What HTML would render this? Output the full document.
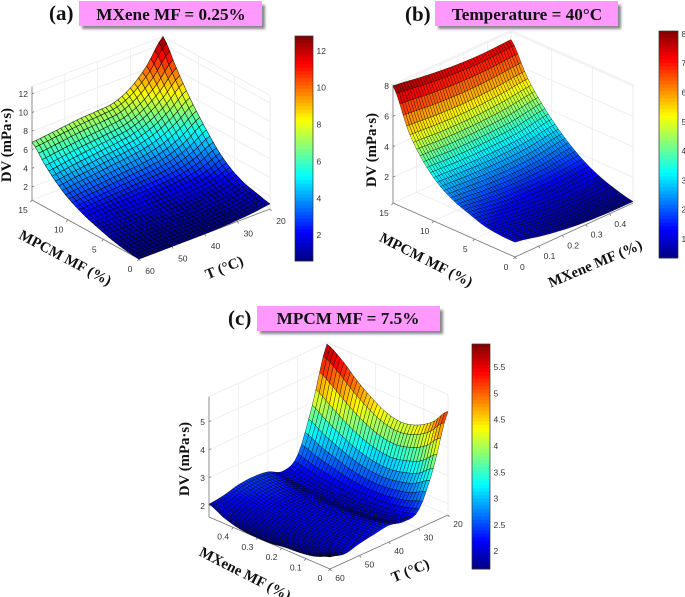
<!DOCTYPE html>
<html lang="en">
<head>
<meta charset="utf-8">
<title>DV response surfaces</title>
<style>
html,body{margin:0;padding:0;background:#fff;}
body{width:685px;height:597px;overflow:hidden;position:relative;}
svg{position:absolute;left:0;top:0;display:block;filter:blur(0.35px);}
.tick{font:8.5px "Liberation Sans",sans-serif;fill:#333;}
.axt{font:bold 14.8px "Liberation Serif",serif;fill:#111;}
.plabel{font:bold 21px "Liberation Serif",serif;fill:#111;}
.ttl{font:bold 17.2px "Liberation Serif",serif;fill:#111;}
</style>
</head>
<body>
<svg id="chart" width="685" height="597" viewBox="0 0 685 597" xmlns="http://www.w3.org/2000/svg">
  <defs>
    <filter id="soft" x="-20%" y="-20%" width="140%" height="160%"><feGaussianBlur stdDeviation="1.2"/></filter>
  </defs>
  <g>
    <text class="plabel" x="49" y="20">(a)</text>
    <rect x="82" y="5" width="183" height="24" fill="#888" filter="url(#soft)"/>
    <rect x="79" y="1" width="183" height="25" fill="#ff99ff"/>
    <text class="ttl" x="171" y="20" text-anchor="middle">MXene MF = 0.25%</text>
  </g>
  <g>
    <text class="plabel" x="405" y="21">(b)</text>
    <rect x="438" y="5" width="183" height="24" fill="#888" filter="url(#soft)"/>
    <rect x="435" y="1" width="183" height="25" fill="#ff99ff"/>
    <text class="ttl" x="527" y="20" text-anchor="middle">Temperature = 40°C</text>
  </g>
  <g>
    <text class="plabel" x="228" y="325">(c)</text>
    <rect x="260" y="310" width="183" height="24" fill="#888" filter="url(#soft)"/>
    <rect x="257" y="306" width="183" height="25" fill="#ff99ff"/>
    <text class="ttl" x="348" y="324" text-anchor="middle">MPCM MF = 7.5%</text>
  </g>
  <g id="plots"></g>
  <g>
    <text class="axt" transform="translate(11,145) rotate(-90)" text-anchor="middle">DV (mPa·s)</text>
    <text class="axt" transform="translate(63,262) rotate(28)" text-anchor="middle">MPCM MF (%)</text>
    <text class="axt" transform="translate(226,272) rotate(-22)" text-anchor="middle">T (°C)</text>
    <text class="axt" transform="translate(376,150) rotate(-90)" text-anchor="middle">DV (mPa·s)</text>
    <text class="axt" transform="translate(424,264) rotate(27)" text-anchor="middle">MPCM MF (%)</text>
    <text class="axt" transform="translate(597,268) rotate(-23)" text-anchor="middle">MXene MF (%)</text>
    <text class="axt" transform="translate(189,459) rotate(-90)" text-anchor="middle">DV (mPa·s)</text>
    <text class="axt" transform="translate(243,578) rotate(27)" text-anchor="middle">MXene MF (%)</text>
    <text class="axt" transform="translate(412,575) rotate(-22)" text-anchor="middle">T (°C)</text>
  </g>
</svg>
<script>
// ---- data ----
// Tables: each row is one step along the second factor, each column one step along the first.
const dvAtMxene025 = [ // rows MPCM 0..15, cols T 60..20
  [0.6,0.6,0.6,0.6,0.6,0.65,0.75,0.9,1.15],
  [0.75,0.78,0.8,0.8,0.8,0.85,0.95,1.15,1.5],
  [1.05,1.08,1.1,1.1,1.1,1.15,1.3,1.5,1.9],
  [1.5,1.52,1.52,1.55,1.6,1.65,1.8,2.1,2.7],
  [2.0,2.1,2.15,2.25,2.35,2.45,2.7,3.2,4.0],
  [2.7,2.85,3.0,3.15,3.3,3.5,3.9,4.7,5.8],
  [3.7,3.95,4.15,4.4,4.6,4.9,5.5,6.5,7.8],
  [5.1,5.35,5.6,5.8,6.0,6.3,7.1,8.4,10.2],
  [6.8,7.0,7.2,7.4,7.5,7.7,8.6,10.3,12.8]
];
const dvAt40C = [ // rows MPCM 0..15, cols MXene 0..0.5
  [1.27,0.85,0.55,0.42,0.4],
  [1.3,0.95,0.7,0.62,0.65],
  [1.45,1.15,0.95,0.9,1.0],
  [1.8,1.5,1.35,1.35,1.5],
  [2.2,2.0,1.9,1.95,2.2],
  [2.85,2.75,2.7,2.8,3.1],
  [3.9,3.8,3.8,3.9,4.2],
  [5.5,5.35,5.3,5.4,5.6],
  [8.0,7.72,7.5,7.42,7.5]
];
const dvAtMpcm75 = [ // rows MXene 0..0.5, cols T 60..20
  [2.03,1.9,2.03,2.12,2.2,2.09,2.25,3.5,5.3],
  [1.82,1.85,1.98,2.05,2.1,1.95,2.1,3.1,4.7],
  [1.72,1.82,1.95,2.02,2.03,1.85,2.0,2.9,4.35],
  [1.68,1.82,1.95,2.02,2.0,1.8,1.95,2.8,4.2],
  [1.6,1.8,1.95,2.02,2.0,1.8,1.95,2.85,4.3],
  [1.6,1.82,1.98,2.05,2.0,1.82,2.0,3.0,4.6],
  [1.65,1.88,2.05,2.12,2.05,1.85,2.1,3.25,5.0],
  [1.8,1.98,2.15,2.22,2.15,1.93,2.2,3.55,5.5],
  [2.06,2.13,2.27,2.31,2.25,2.03,2.35,3.9,5.85]
];
const tempTicks = [60,50,40,30,20];
const mpcmTicks = [0,5,10,15];
const mxeneTicks = [0,0.1,0.2,0.3,0.4];
const dvTicksA = [2,4,6,8,10,12];
const dvTicksB = [2,4,6,8];
const dvTicksC = [2,3,4,5];
const cbarTicksA = [2,4,6,8,10,12];
const cbarTicksB = [1,2,3,4,5,6,7,8];
const cbarTicksC = [2,2.5,3,3.5,4,4.5,5,5.5];

// ---- helpers ----
const NS = 'http://www.w3.org/2000/svg';
const plots = document.getElementById('plots');
function make(parent, tag){
  const el = document.createElementNS(NS, tag);
  parent.appendChild(el);
  return el;
}
function clamp(x){ return Math.max(0, Math.min(1, x)); }
function jet(t){
  t = clamp(t);
  const r = clamp(Math.min(4*t-1.5, -4*t+4.5));
  const g = clamp(Math.min(4*t-0.5, -4*t+3.5));
  const b = clamp(Math.min(4*t+0.5, -4*t+2.5));
  return 'rgb(' + Math.round(r*255) + ',' + Math.round(g*255) + ',' + Math.round(b*255) + ')';
}
function cr(p0,p1,p2,p3,t){
  return 0.5*((2*p1)+(-p0+p2)*t+(2*p0-5*p1+4*p2-p3)*t*t+(-p0+3*p1-3*p2+p3)*t*t*t);
}
// Smooth display sampling of a value table for mesh rendering
function sample(table,u,v){
  const rows = table.length, cols = table[0].length;
  const fy = clamp(v)*(rows-1), fx = clamp(u)*(cols-1);
  const iy = Math.min(rows-2, Math.floor(fy)), ix = Math.min(cols-2, Math.floor(fx));
  const ty = fy-iy, tx = fx-ix;
  const at = (r,c) => table[Math.max(0,Math.min(rows-1,r))][Math.max(0,Math.min(cols-1,c))];
  const col = [];
  for(let r=-1;r<=2;r++){
    col.push(cr(at(iy+r,ix-1),at(iy+r,ix),at(iy+r,ix+1),at(iy+r,ix+2),tx));
  }
  return cr(col[0],col[1],col[2],col[3],ty);
}

function drawPanel(cfg){
  const g = make(plots,'g');
  
  
  const project = (u,v,z) => [
    cfg.ox + u*cfg.du[0] + v*cfg.dv[0],
    cfg.oy + u*cfg.du[1] + v*cfg.dv[1] - (z-cfg.zMin)*cfg.k
  ];
  const gridLine = (pts) => {
    const pl = make(g,'polyline');
    
    
    pl.setAttribute('points', pts.map(p => p[0].toFixed(1)+','+p[1].toFixed(1)).join(' '));
    pl.setAttribute('fill','none');
    pl.setAttribute('stroke','#ebebeb');
    pl.setAttribute('stroke-width','0.8');
  };
  // walls and floor grid
  cfg.zTicks.concat([cfg.zMax]).forEach(z => gridLine([project(0,1,z),project(1,1,z),project(1,0,z)]));
  cfg.uTicks.forEach(t => {
    const u = cfg.uScale(t);
    gridLine([project(u,0,cfg.zMin),project(u,1,cfg.zMin),project(u,1,cfg.zMax)]);
  });
  cfg.vTicks.forEach(t => {
    const v = cfg.vScale(t);
    gridLine([project(0,v,cfg.zMin),project(1,v,cfg.zMin),project(1,v,cfg.zMax)]);
  });
  gridLine([project(1,0,cfg.zMin),project(1,0,cfg.zMax)]);
  gridLine([project(1,1,cfg.zMin),project(1,1,cfg.zMax)]);

  // axes
  const axisLine = (a,b,name) => {
    const l = make(g,'line');
    
    
    l.setAttribute('x1',a[0]); l.setAttribute('y1',a[1]);
    l.setAttribute('x2',b[0]); l.setAttribute('y2',b[1]);
    l.setAttribute('stroke','#777');
    l.setAttribute('stroke-width','0.8');
  };
  axisLine(project(0,0,cfg.zMin),project(1,0,cfg.zMin),'first-factor-axis');
  axisLine(project(0,0,cfg.zMin),project(0,1,cfg.zMin),'second-factor-axis');
  axisLine(project(0,1,cfg.zMin),project(0,1,cfg.zMax),'dv-axis');

  const tickLabel = (x,y,txt,anchor,name) => {
    const t = make(g,'text');
    
    
    t.setAttribute('class','tick');
    t.setAttribute('x',x.toFixed(1));
    t.setAttribute('y',y.toFixed(1));
    t.setAttribute('text-anchor',anchor);
    t.setAttribute('dominant-baseline','central');
    t.textContent = txt;
  };
  cfg.uTicks.forEach(t => {
    const p = project(cfg.uScale(t),0,cfg.zMin);
    axisLine(p,[p[0]+1.5,p[1]+2],'first-factor-tick');
    tickLabel(p[0]+cfg.uOff[0],p[1]+cfg.uOff[1],String(t),cfg.uAnchor,'first-factor-tick-label');
  });
  cfg.vTicks.forEach(t => {
    const p = project(0,cfg.vScale(t),cfg.zMin);
    axisLine(p,[p[0]-1.5,p[1]+2],'second-factor-tick');
    tickLabel(p[0]+cfg.vOff[0],p[1]+cfg.vOff[1],String(t),'middle','second-factor-tick-label');
  });
  cfg.zTicks.forEach(z => {
    const p = project(0,1,z);
    axisLine(p,[p[0]+2,p[1]-1],'dv-tick');
    tickLabel(p[0]-4,p[1],String(z),'end','dv-tick-label');
  });

  // surface, painted back to front
  const surface = make(g,'g');
  
  
  for(let i=cfg.nu-1;i>=0;i--){
    for(let j=cfg.nv-1;j>=0;j--){
      const u0=Math.pow(i/cfg.nu,cfg.warp),u1=Math.pow((i+1)/cfg.nu,cfg.warp),v0=j/cfg.nv,v1=(j+1)/cfg.nv;
      const z00=sample(cfg.table,u0,v0),z10=sample(cfg.table,u1,v0),z11=sample(cfg.table,u1,v1),z01=sample(cfg.table,u0,v1);
      const pts=[project(u0,v0,z00),project(u1,v0,z10),project(u1,v1,z11),project(u0,v1,z01)];
      const mean=(z00+z10+z11+z01)/4;
      const cell=make(surface,'path');
      
      
      cell.setAttribute('d','M'+pts.map(p=>p[0].toFixed(1)+' '+p[1].toFixed(1)).join('L')+'Z');
      cell.setAttribute('fill',jet((mean-cfg.sMin)/(cfg.cMax-cfg.sMin)));
      cell.setAttribute('stroke','#000');
      cell.setAttribute('stroke-opacity',cfg.mesh);
      cell.setAttribute('stroke-width',cfg.meshW);
    }
  }

  // colour bar
  const bar = make(g,'g');
  
  
  const cbY = v => cfg.cbTop + (cfg.cMax-v)/(cfg.cMax-cfg.cMin)*(cfg.cbBot-cfg.cbTop);
  const steps = 64;
  for(let s=0;s<steps;s++){
    const r = make(bar,'rect');
    
    
    const h=(cfg.cbBot-cfg.cbTop)/steps;
    r.setAttribute('x',cfg.cbX);
    r.setAttribute('y',(cfg.cbTop+s*h).toFixed(2));
    r.setAttribute('width',cfg.cbW);
    r.setAttribute('height',(h+0.4).toFixed(2));
    r.setAttribute('fill',jet(1-(s+0.5)/steps));
  }
  const frame = make(bar,'rect');
  
  
  frame.setAttribute('x',cfg.cbX);
  frame.setAttribute('y',cfg.cbTop);
  frame.setAttribute('width',cfg.cbW);
  frame.setAttribute('height',cfg.cbBot-cfg.cbTop);
  frame.setAttribute('fill','none');
  frame.setAttribute('stroke','#333');
  frame.setAttribute('stroke-width','0.7');
  cfg.cbTicks.forEach(v => {
    const y = cbY(v);
    tickLabel(cfg.cbX+cfg.cbW+3.5,y,String(v),'start','colorbar-tick-label');
  });
}

const panelA = {id:'panel-a',table:dvAtMxene025,ox:139,oy:259,du:[131,-50],dv:[-107,-59],k:9.3,zMin:0.6,zMax:12.8,
  uTicks:tempTicks,vTicks:mpcmTicks,zTicks:dvTicksA,uOff:[11,12],vOff:[-9,10],uAnchor:'middle',nu:32,nv:32,warp:1,mesh:0.8,meshW:0.6,
  sMin:0.6,cMin:0.6,cMax:12.8,cbX:295,cbW:18,cbTop:36,cbBot:261,cbTicks:cbarTicksA};
panelA.uScale = t => (60-t)/40;
panelA.vScale = m => m/15;

const panelB = {id:'panel-b',table:dvAt40C,ox:515,oy:257,du:[118,-54],dv:[-122,-54],k:15.2,zMin:0.3,zMax:8.1,
  uTicks:mxeneTicks,vTicks:mpcmTicks,zTicks:dvTicksB,uOff:[5,10],vOff:[-9,10],uAnchor:'start',nu:44,nv:36,warp:1,mesh:0.7,meshW:0.5,
  sMin:0.35,cMin:0.35,cMax:8.1,cbX:659,cbW:19,cbTop:31,cbBot:258,cbTicks:cbarTicksB};
panelB.uScale = x => x/0.5;
panelB.vScale = m => m/15;

const panelC = {id:'panel-c',table:dvAtMpcm75,ox:330,oy:569,du:[118,-54],dv:[-121,-52],k:28,zMin:1.6,zMax:5.9,
  uTicks:tempTicks,vTicks:mxeneTicks,zTicks:dvTicksC,uOff:[10,9],vOff:[-10,9],uAnchor:'middle',nu:44,nv:36,warp:1.4,mesh:0.75,meshW:0.5,
  sMin:1.5,cMin:1.66,cMax:5.94,cbX:472,cbW:18,cbTop:344,cbBot:569,cbTicks:cbarTicksC};
panelC.uScale = t => (60-t)/40;
panelC.vScale = x => x/0.5;

drawPanel(panelA);
drawPanel(panelB);
drawPanel(panelC);
</script>
</body>
</html>
